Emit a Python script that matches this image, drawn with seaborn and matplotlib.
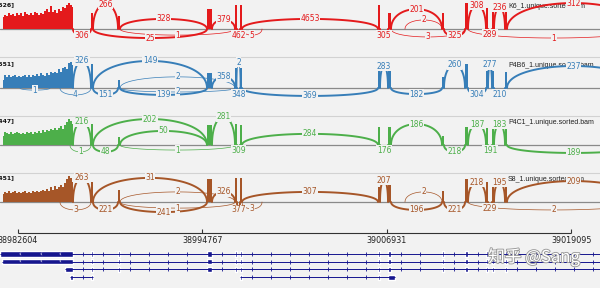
import numpy as np
import matplotlib
matplotlib.use("Agg")
import matplotlib.pyplot as plt
import matplotlib.patheffects as pe
import matplotlib.transforms as mtransforms
import seaborn as sns

# ---------------- data ----------------
region = (38981417, 39020975)
ruler_ticks = [38982604, 38994767, 39006931, 39019095]

exons = [
    (38981615, 38986230),
    (38987417, 38987549),
    (38989197, 38989329),
    (38995065, 38995394),
    (38996911, 38997043),
    (38997241, 38997372),
    (39006339, 39006471),
    (39006998, 39007196),
    (39010558, 39010690),
    (39012075, 39012273),
    (39013459, 39013591),
    (39013855, 39013987),
    (39014712, 39014844),
    (39023612, 39023800),
]

samples = ["K6_1.unique.sorted.bam", "P4B6_1.unique.sorted.bam",
           "P4C1_1.unique.sorted.bam", "S8_1.unique.sorted.bam"]
max_depth = [526, 551, 447, 451]

exon1_red = [230, 283, 257, 309, 272, 294, 257, 325, 283, 309, 267, 336, 294, 272, 320, 283, 346, 309,
             283, 325, 294, 351, 399, 336, 447, 346, 378, 325, 399, 362, 441, 415, 483, 526, 473, 441]
exon1_blue = [165, 276, 231, 264, 220, 248, 276, 231, 259, 220, 248, 276, 237, 264, 231, 276, 248, 287,
              259, 303, 276, 248, 303, 276, 331, 303, 342, 320, 386, 331, 413, 441, 386, 523, 551, 468]
exon1_green = [156, 224, 201, 179, 215, 188, 206, 224, 197, 179, 210, 188, 224, 201, 215, 192, 224, 206,
               232, 210, 246, 224, 259, 232, 268, 246, 282, 259, 291, 313, 277, 335, 380, 447, 402, 358]
exon1_brown = [135, 171, 158, 180, 149, 167, 180, 158, 171, 149, 162, 180, 153, 171, 158, 180, 167, 189,
               171, 180, 203, 180, 216, 189, 248, 203, 271, 226, 248, 293, 262, 316, 383, 451, 406, 338]
exon1_depth = [exon1_red, exon1_blue, exon1_green, exon1_brown]

depth_red = [316, 263, 395, 484, 484, 484, 326, 326, 526, 421, 384, 384]
depth_blue = [496, 165, 303, 413, 413, 452, 441, 220, 496, 358, 358, 331]
depth_green = [358, 134, 335, 358, 335, 300, 300, 156, 300, 282, 282, 282]
depth_brown = [347, 203, 383, 406, 406, 262, 293, 180, 383, 347, 347, 248]
exon_depth = [depth_red, depth_blue, depth_green, depth_brown]

# (donor exon index or position, acceptor exon index or position, reads, arc level)
junc_red = [
    (0, 1, 306, -0.23), (1, 2, 266, 0.94), (2, 3, 328, 0.38), (1, 3, 25, -0.34),
    (2, 4, 1, -0.23), (3, 4, 379, 0.34), (4, 5, 462, -0.23), (5, 38998691, 5, -0.23),
    (5, 6, 4653, 0.38), (6, 7, 305, -0.23), (7, 8, 201, 0.75), (39008119, 8, 2, 0.34),
    (7, 9, 3, -0.30), (8, 9, 325, -0.26), (9, 10, 308, 0.90), (10, 11, 289, -0.19),
    (11, 12, 236, 0.83), (12, 13, 312, 0.98), (9, 13, 1, -0.34),
]
junc_blue = [
    (38982736, 38984714, 1, -0.08), (38985373, 1, 4, -0.26), (0, 1, 326, 1.02),
    (1, 2, 151, -0.26), (1, 3, 149, 1.02), (2, 4, 2, 0.42), (2, 3, 139, -0.26),
    (2, 4, 2, -0.15), (3, 4, 358, 0.42), (4, 5, 2, 0.98), (4, 5, 348, -0.23),
    (5, 6, 369, -0.30), (6, 7, 283, 0.83), (7, 8, 182, -0.23), (8, 9, 260, 0.87),
    (9, 10, 304, -0.23), (10, 11, 277, 0.87), (11, 12, 210, -0.23), (12, 13, 237, 0.83),
]
junc_green = [
    (0, 1, 216, 0.87), (38986032, 1, 1, -0.26), (1, 2, 48, -0.26), (1, 3, 202, 0.98),
    (2, 3, 50, 0.53), (2, 4, 1, -0.19), (3, 4, 281, 1.06), (4, 5, 309, -0.19),
    (5, 6, 284, 0.42), (6, 7, 176, -0.19), (7, 8, 186, 0.79), (8, 9, 218, -0.26),
    (9, 10, 187, 0.79), (10, 11, 191, -0.19), (11, 12, 183, 0.79), (12, 13, 189, -0.30),
]
junc_brown = [
    (0, 1, 263, 0.91), (38985373, 1, 3, -0.30), (1, 2, 221, -0.30), (1, 3, 31, 0.91),
    (2, 4, 2, 0.38), (2, 3, 241, -0.38), (2, 4, 1, -0.23), (3, 4, 326, 0.38),
    (4, 5, 377, -0.30), (5, 38998691, 3, -0.26), (5, 6, 307, 0.38), (6, 7, 207, 0.83),
    (7, 8, 196, -0.30), (39008119, 8, 2, 0.38), (8, 9, 221, -0.30), (9, 10, 218, 0.75),
    (10, 11, 229, -0.23), (11, 12, 195, 0.75), (12, 13, 209, 0.79), (9, 13, 2, -0.30),
]
junctions = [junc_red, junc_blue, junc_green, junc_brown]

transcripts = [
    (0, [(38981417, 38986230)] + exons[1:]),
    (1, [(38981549, 38986230)] + exons[1:]),
    (2, [(38985702, 38986230)] + exons[1:]),
    (3, [(38986032, 38986230), exons[1]]),
    (3, [exons[5], exons[6], (39006998, 39007460)]),
]
utr_arrows = [38982736, 38984121, 38985373]

# ---------------- style ----------------
sns.set_theme(style="white")
plt.rcParams['font.family'] = ['DejaVu Sans']
bg = '#f2f2f2'
pal = sns.color_palette("Set1")
colors = [pal[0], pal[1], pal[2], pal[6]]
navy = '#16168e'

W, H = 600, 288
fig = plt.figure(figsize=(6, 2.88), dpi=100, facecolor=bg)


def px_rect(top, bottom):
    return [0, 1 - bottom / H, 1, (bottom - top) / H]


def site(v, which):
    return exons[v][which] if v < 1000 else v


def bezier(x1, x2, level):
    h = level / 0.75
    t = np.linspace(0, 1, 80)
    x = (1 - t) ** 3 * x1 + 3 * (1 - t) ** 2 * t * x1 + 3 * (1 - t) * t ** 2 * x2 + t ** 3 * x2
    y = 3 * (1 - t) ** 2 * t * h + 3 * (1 - t) * t ** 2 * h
    return x, y


baselines = [29, 88, 145, 202]
unit = 26.5

for i, b in enumerate(baselines):
    ax = fig.add_axes(px_rect(b - 29, b + 28))
    ax.set_facecolor('none')
    M = max_depth[i]
    c = colors[i]
    ax.axhline(0, color='#8a8a8a', lw=0.9, zorder=1)
    xs = np.linspace(exons[0][0], exons[0][1], len(exon1_depth[i]))
    ax.fill_between(xs, np.array(exon1_depth[i]) / M, step='mid', color=c, lw=0, zorder=2)
    starts = [e[0] for e in exons[1:13]]
    widths = [e[1] - e[0] for e in exons[1:13]]
    ax.bar(starts, np.array(exon_depth[i]) / M, width=widths, align='edge',
           color=c, lw=0, zorder=2)
    trans = mtransforms.blended_transform_factory(ax.transAxes, ax.transData)
    ax.text(508 / W, 0.85, samples[i], transform=trans, fontsize=5,
            family='Liberation Sans', color='#202020', ha='left', va='center', zorder=1)
    ax.text(14 / W, 0.92, f"[0-{M}]", transform=trans, fontsize=4.4, fontweight='bold',
            color='#111111', ha='right', va='center')
    for d, a, n, lev in junctions[i]:
        x1 = site(d, 1)
        x2 = site(a, 0)
        bx, by = bezier(x1, x2, lev)
        sns.lineplot(x=bx, y=by, ax=ax, sort=False, estimator=None, color=c,
                     lw=1.4 if n >= 10 else 0.5, zorder=3)
        ax.text((x1 + x2) / 2, lev, str(n), fontsize=5.5, color=c, ha='center', va='center',
                zorder=4, bbox=dict(fc=bg, ec='none', pad=0.4))
    ax.set_xlim(region)
    ax.set_ylim(-28 / unit, 29 / unit)
    ax.set_xticks([])
    ax.set_yticks([])
    ax.set_xlabel('')
    ax.set_ylabel('')
    for s in ['top', 'left', 'right']:
        ax.spines[s].set_visible(False)
    if i < 3:
        ax.spines['bottom'].set_color('#d2d2d2')
        ax.spines['bottom'].set_linewidth(0.8)
    else:
        ax.spines['bottom'].set_visible(False)

# ruler
rax = fig.add_axes(px_rect(224, 250))
rax.set_facecolor('none')
rax.set_xlim(region)
rax.set_ylim(250, 224)
rax.axis('off')
rax.hlines(233, ruler_ticks[0], ruler_ticks[-1], color='#333333', lw=0.8)
rax.vlines(ruler_ticks, 229.5, 233, color='#333333', lw=0.8)
for t in ruler_ticks:
    rax.text(t, 240.5, str(t), ha='center', va='center', fontsize=5.8, color='#222222')

# gene models
gax = fig.add_axes(px_rect(245, 288))
gax.set_facecolor('none')
gax.set_xlim(region)
gax.set_ylim(288, 245)
gax.axis('off')
row_y = [254, 261.7, 269.4, 277.1]
step = 1253
for row, ex in transcripts:
    y = row_y[row]
    gax.hlines(y, ex[0][0], ex[-1][1], color=navy, lw=0.7)
    for (a0, a1), (b0, b1) in zip(ex[:-1], ex[1:]):
        pos = np.arange(a1 + step / 2, b0 - step / 3, step)
        if len(pos):
            gax.plot(pos, np.full_like(pos, y, dtype=float), ls='none', marker='|',
                     ms=2.2, mew=0.6, color=navy)
    gax.broken_barh([(s, e - s) for s, e in ex], (y - 2.6, 5.2), facecolors=navy)
for row in (0, 1):
    for x in utr_arrows:
        gax.text(x, row_y[row], '‹', color='white', fontsize=5, ha='center', va='center')

fig.text(534 / W, 1 - 257 / H, '知乎 @Sang', fontsize=12, color='white',
         family=['Noto Sans CJK SC', 'DejaVu Sans'], ha='center', va='center',
         path_effects=[pe.withStroke(linewidth=1.3, foreground='#9a9a9a')])

fig.savefig('out.png', dpi=100, facecolor=bg)
